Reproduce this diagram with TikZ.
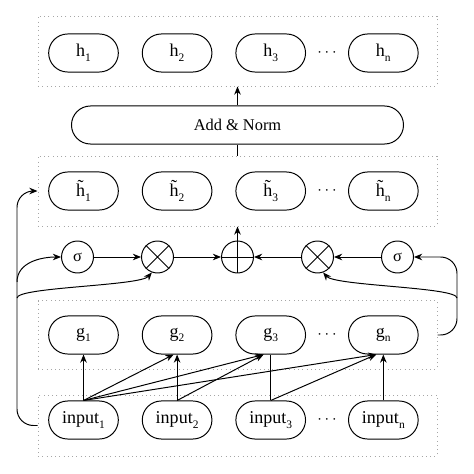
\documentclass[tikz,border=0pt]{standalone}
\usepackage{fontspec}
\setmainfont{Liberation Serif}
\usetikzlibrary{arrows.meta,positioning,shapes.misc}

\newcommand\lowsub[1]{\raisebox{-0.55ex}{\scriptsize #1}}

\begin{document}
\begin{tikzpicture}[
  x=0.61pt,y=-0.61pt,
  node distance=14pt,
  line width=0.6pt,
  pill/.style={draw,rounded rectangle,minimum width=44.5pt,
               minimum height=23.2pt,inner sep=1pt,font=\fontsize{11}{13}\selectfont},
  grp/.style={draw=gray!70,dotted,minimum width=243.4pt,minimum height=#1},
  op/.style={draw,circle,minimum size=19.5pt,inner sep=0pt},
  arr/.style={-{Stealth[length=5pt,width=4pt]}}
]
\useasboundingbox (0,0) rectangle (474,474);

% dotted groups
\node[grp=42.7pt] (hbox)  at (237.5,51)    {};
\node[grp=42.7pt] (htbox) at (237.5,191)   {};
\node[grp=41.5pt] (gbox)  at (237.5,335)   {};
\node[grp=37.2pt] (inbox) at (237.5,425.5) {};

% inputs
\node[pill] (in1) at (83.5,420) {input\lowsub{1}};
\node[pill,right=of in1] (in2) {input\lowsub{2}};
\node[pill,right=of in2] (in3) {input\lowsub{3}};
\node[pill,right=25.6pt of in3] (inn) {input\lowsub{n}};
\path (in3.east) -- (inn.west) node[midway] (din) {$\cdots$};

% g
\node[pill] (g1) at (83.5,335) {g\lowsub{1}};
\node[pill,right=of g1] (g2) {g\lowsub{2}};
\node[pill,right=of g2] (g3) {g\lowsub{3}};
\node[pill,right=25.6pt of g3] (gn) {g\lowsub{n}};
\path (g3.east) -- (gn.west) node[midway] (dg) {$\cdots$};

% gates
\node[op] (sum) at (237.5,257) {};
\node[op,left=28.7pt of sum]  (mulL) {};
\node[op,left=28.7pt of mulL] (sigL) {σ};
\node[op,right=28.7pt of sum]  (mulR) {};
\node[op,right=28.7pt of mulR] (sigR) {σ};

% h tilde
\node[pill] (ht1) at (83.5,191) {\~{h}\lowsub{1}};
\node[pill,right=of ht1] (ht2) {\~{h}\lowsub{2}};
\node[pill,right=of ht2] (ht3) {\~{h}\lowsub{3}};
\node[pill,right=25.6pt of ht3] (htn) {\~{h}\lowsub{n}};
\path (ht3.east) -- (htn.west) node[midway] (dht) {$\cdots$};

\node[draw,rounded rectangle,minimum width=209.2pt,minimum height=23.2pt]
     (norm) at (237.5,125) {Add \& Norm};

% h
\node[pill] (h1) at (83.5,53) {h\lowsub{1}};
\node[pill,right=of h1] (h2) {h\lowsub{2}};
\node[pill,right=of h2] (h3) {h\lowsub{3}};
\node[pill,right=25.6pt of h3] (hn) {h\lowsub{n}};
\path (h3.east) -- (hn.west) node[midway] (dh) {$\cdots$};

% gate symbols
\draw (mulL.45) -- (mulL.225) (mulL.135) -- (mulL.-45);
\draw (mulR.45) -- (mulR.225) (mulR.135) -- (mulR.-45);
\draw (sum.north) -- (sum.south) (sum.west) -- (sum.east);

% inputs to g
\draw[arr] (in1.north) -- (g1.south);
\draw[arr] (in1.north) -- (g2.260);
\draw[arr] (in1.north) -- (g3.250);
\draw[arr] (in1.north) -- (gn.250);
\draw[arr] (in2.north) -- (g2.south);
\draw[arr] (in2.north) -- (g3.250);
\draw      (in3.north) -- (g3.south);
\draw[arr] (in3.north) -- (gn.250);
\draw[arr] (inn.north) -- (gn.south);

% gating
\draw[arr] (sigL) -- (mulL);
\draw[arr] (mulL) -- (sum);
\draw[arr] (sigR) -- (mulR);
\draw[arr] (mulR) -- (sum);
\draw[arr] (sum.north) -- (htbox.south);
\draw      (htbox.north) -- (norm.south);
\draw[arr] (norm.north) -- (hbox.south);

% residual paths
\coordinate (lcol) at (17,300);
\coordinate (lb1)  at (17,282);
\coordinate (lb2)  at (17,298);
\draw[arr,rounded corners=10pt] (inbox.west) -| (lcol) |- (htbox.west);
\draw[arr] (lb1) to[out=90,in=180] (sigL.west);
\draw[arr] (lb2) .. controls (17,287) and (140,286) .. (mulL.250);

\coordinate (rcol) at (457,300);
\coordinate (rb2)  at (457,298);
\draw[arr,rounded corners=10pt] (gbox.east) -| (rcol) |- (sigR.east);
\draw[arr] (rb2) .. controls (457,287) and (335,286) .. (mulR.-70);
\end{tikzpicture}
\end{document}
